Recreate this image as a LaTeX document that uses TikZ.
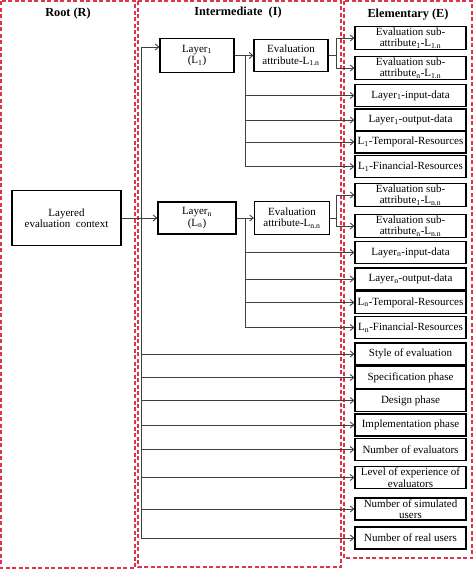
\documentclass[tikz,border=0pt]{standalone}
\usepackage{fontspec}
\setmainfont{Liberation Serif}
\usetikzlibrary{arrows.meta}
\definecolor{zonered}{RGB}{222,52,72}
\tikzset{
	zone/.style={zonered,line width=2pt,dash pattern=on 4pt off 2.5pt},
	head/.style={font=\bfseries\fontsize{12.3}{13}\selectfont},
	box/.style={draw,line width=1.2pt,align=center,inner sep=1pt,font=\fontsize{11}{11.5}\selectfont},
	elem/.style={box,minimum width=111pt,minimum height=22pt},
	link/.style={black!75,line width=.9pt,-{Straight Barb[length=3.5pt,width=6pt]}},
}
\begin{document}
\begin{tikzpicture}[x=1pt,y=-1pt]
	\useasboundingbox (0,0) rectangle (474,570);
	\draw[zone] (1,1) rectangle (135,568);
	\draw[zone] (138,1) rectangle (341,567);
	\draw[zone] (344,1) rectangle (472,558);
	\node[head] (hR) at (68,14) {Root (R)};
	\node[head] (hI) at (238,13) {Intermediate\ \ (I)};
	\node[head] (hE) at (408,15) {Elementary\ (E)};
	\node[box,minimum width=109pt,minimum height=55pt] (ctx) at (66.5,218) {Layered\\evaluation\ \ context};
	\node[box,minimum width=74pt,minimum height=34pt] (lay1) at (197,55.5) {Layer\textsubscript{1}\\(L\textsubscript{1})};
	\node[box,minimum width=74pt,minimum height=32pt] (att1) at (291,55.5) {Evaluation\\attribute-L\textsubscript{1.n}};
	\node[box,minimum width=78pt,minimum height=32pt] (layn) at (197,218) {Layer\textsubscript{n}\\(L\textsubscript{n})};
	\node[box,minimum width=75pt,minimum height=33pt] (attn) at (292,218) {Evaluation\\attribute-L\textsubscript{n.n}};
	\foreach \i/\y/\txt in {
		1/38/{Evaluation sub-\\attribute\textsubscript{1}-L\textsubscript{1.n}},
		2/68/{Evaluation sub-\\attribute\textsubscript{n}-L\textsubscript{1.n}},
		3/95.5/{Layer\textsubscript{1}-input-data},
		4/120/{Layer\textsubscript{1}-output-data},
		5/142/{L\textsubscript{1}-Temporal-Resources},
		6/166.5/{L\textsubscript{1}-Financial-Resources},
		7/195/{Evaluation sub-\\attribute\textsubscript{1}-L\textsubscript{n.n}},
		8/226/{Evaluation sub-\\attribute\textsubscript{n}-L\textsubscript{n.n}},
		9/252.5/{Layer\textsubscript{n}-input-data},
		10/279/{Layer\textsubscript{n}-output-data},
		11/302.5/{L\textsubscript{n}-Temporal-Resources},
		12/327.5/{L\textsubscript{n}-Financial-Resources},
		13/354/{Style of evaluation},
		14/377.5/{Specification phase},
		15/400.5/{Design phase},
		16/425/{Implementation phase},
		17/449.5/{Number of evaluators},
		18/477.5/{Level of experience of\\evaluators},
		19/509/{Number of simulated\\users},
		20/538/{Number of real users}}
		\node[elem] (e\i) at (410.5,\y) {\txt};
	\coordinate (trunk) at (141,47);
	\coordinate (f1) at (245,55.5);
	\coordinate (g1) at (336,55.5);
	\coordinate (f2) at (245,218);
	\coordinate (g2) at (336,218);
	\draw[link] (trunk) -- (trunk -| lay1.west);
	\draw[link] (trunk) |- (e20.west);
	\foreach \i in {13,...,19}
		\draw[link] (trunk |- e\i.west) -- (e\i.west);
	\draw[link] (ctx) -- (layn);
	\draw[link] (lay1) -- (att1);
	\draw[link] (f1) |- (e6.west);
	\foreach \i in {3,4,5}
		\draw[link] (f1 |- e\i.west) -- (e\i.west);
	\draw[link] (att1.east) -- (g1) |- (e1.west);
	\draw[link] (g1) |- (e2.west);
	\draw[link] (layn) -- (attn);
	\draw[link] (f2) |- (e12.west);
	\foreach \i in {9,10,11}
		\draw[link] (f2 |- e\i.west) -- (e\i.west);
	\draw[link] (attn.east) -- (g2) |- (e7.west);
	\draw[link] (g2) |- (e8.west);
\end{tikzpicture}
\end{document}
